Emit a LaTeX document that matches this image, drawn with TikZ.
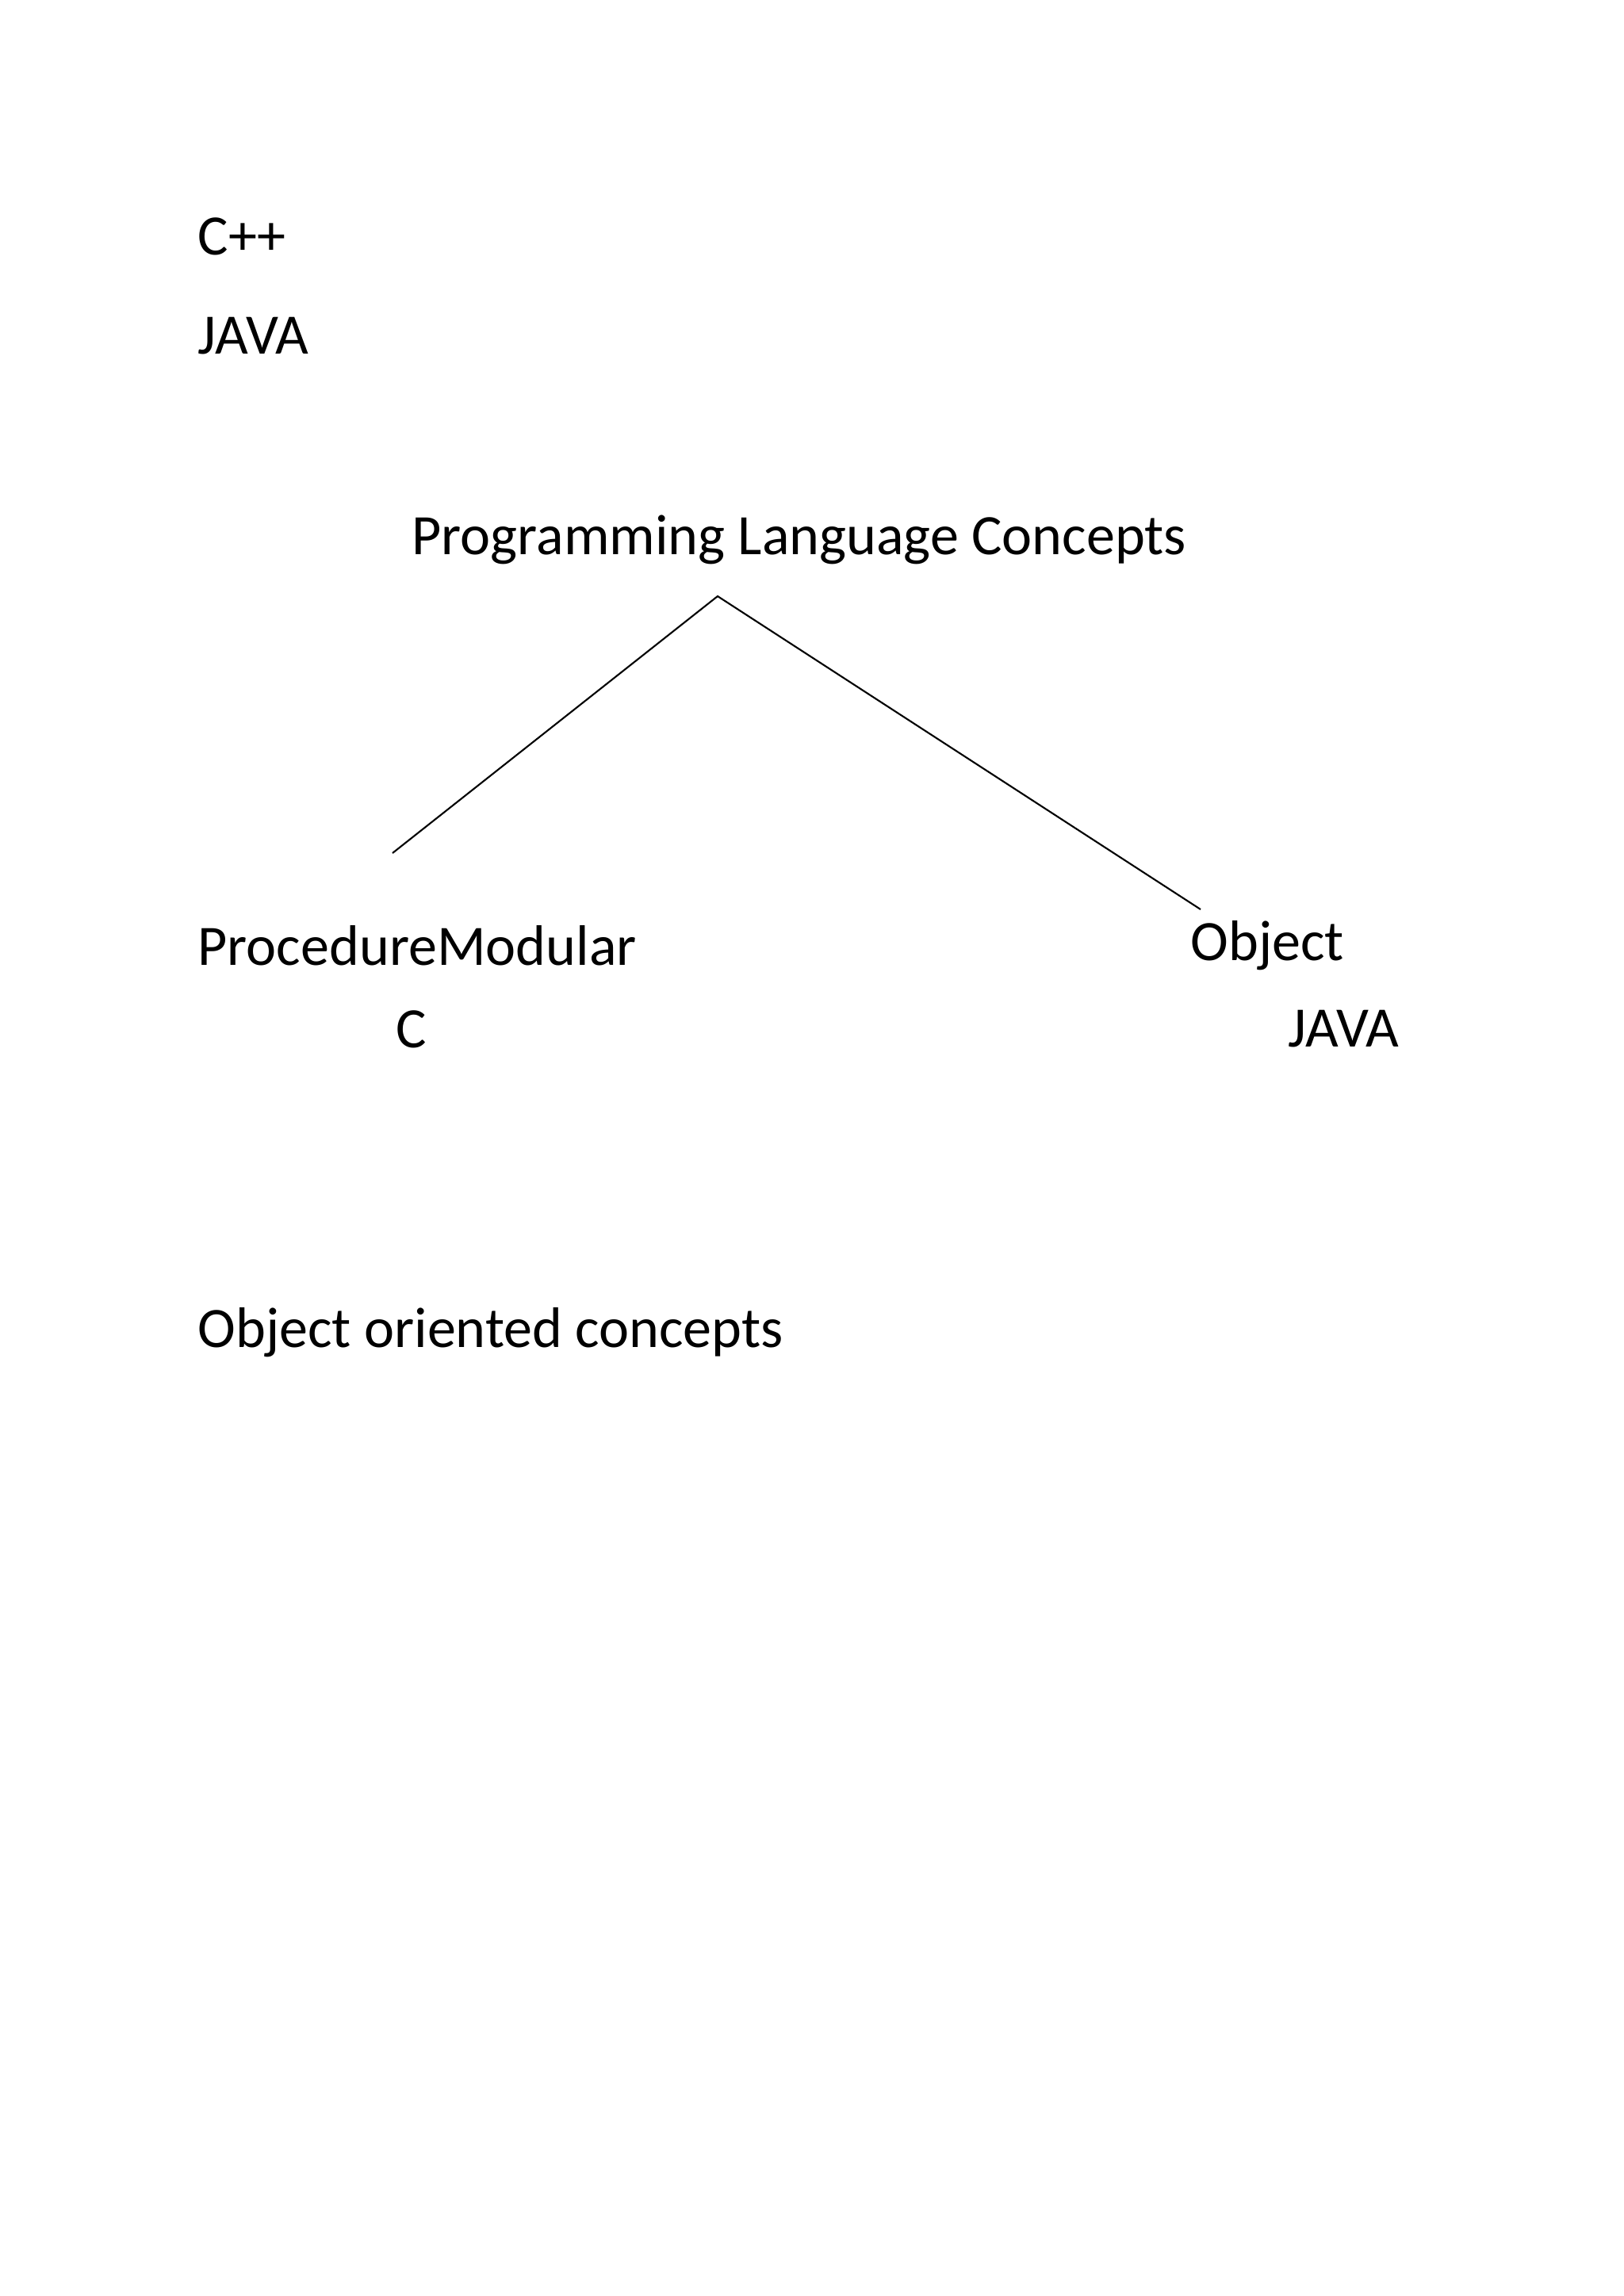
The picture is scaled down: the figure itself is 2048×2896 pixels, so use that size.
\documentclass[tikz,border=0pt]{standalone}
\usepackage{fontspec}
\setmainfont{Carlito}
\begin{document}
\begin{tikzpicture}[x=0.01cm,y=-0.01cm,
  lbl/.style={anchor=west,inner sep=0pt,font=\fontsize{20.5}{24}\selectfont}]
\useasboundingbox[fill=white] (0,0) rectangle (2048,2896);
\node[lbl] (cpp) at (249,298) {C++};
\node[lbl] (java1) at (249,424) {JAVA};
\node[lbl] (plc) at (519,681) {Programming Language Concepts};
\coordinate (apex) at (905,752);
\coordinate (lend) at (495,1076);
\coordinate (rend) at (1514,1147);
\draw[line width=0.6pt] (lend) -- (apex) -- (rend);
\node[lbl] (pm) at (249,1193) {ProcedureModular};
\node[lbl] (c) at (499,1298) {C};
\node[lbl] (obj) at (1501,1193) {Object};
\node[lbl] (java2) at (1624,1298) {JAVA};
\node[lbl] (ooc) at (249,1681) {Object oriented concepts};
\end{tikzpicture}
\end{document}
